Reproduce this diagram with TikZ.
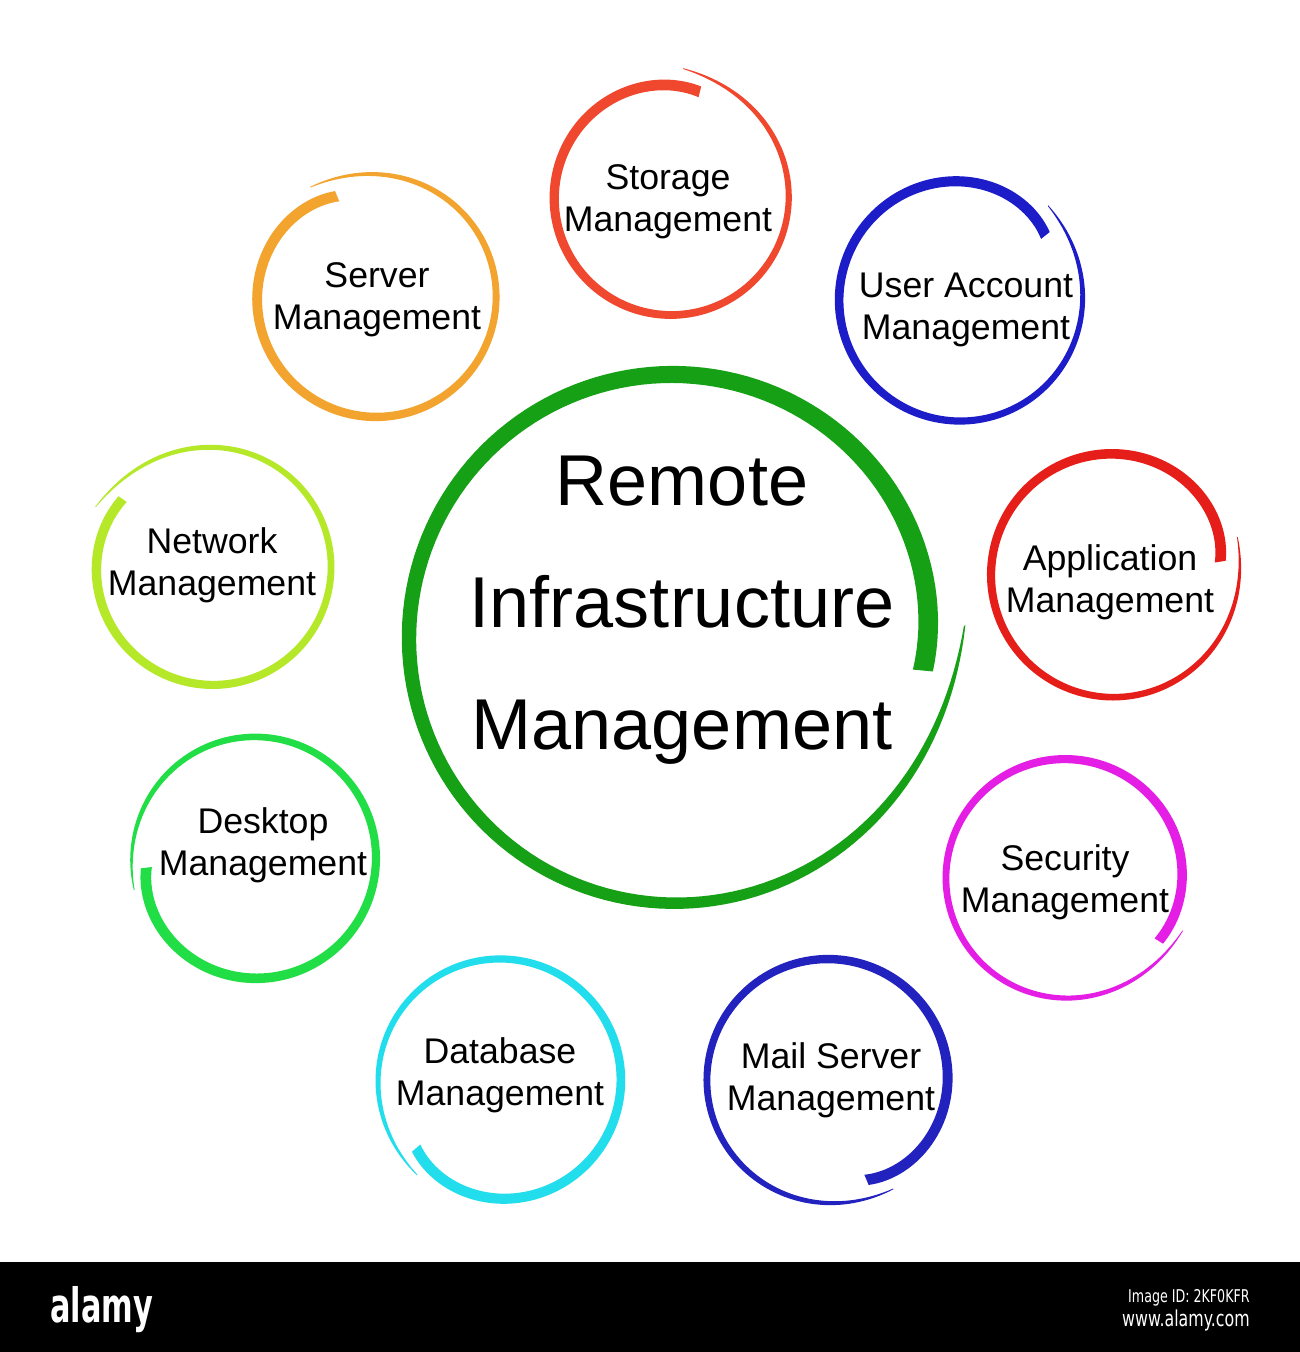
\documentclass[tikz,border=0pt]{standalone}
\usepackage{fontspec}
\setmainfont{Liberation Sans}
\newfontfamily\barfont[FakeStretch=0.72]{DejaVu Sans}
\newfontfamily\logofont[FakeStretch=0.64]{DejaVu Sans}

\definecolor{storagecol}{RGB}{240,72,46}
\definecolor{usercol}{RGB}{28,28,200}
\definecolor{appcol}{RGB}{230,30,26}
\definecolor{securitycol}{RGB}{228,30,228}
\definecolor{mailcol}{RGB}{34,34,190}
\definecolor{databasecol}{RGB}{34,222,236}
\definecolor{desktopcol}{RGB}{34,222,70}
\definecolor{networkcol}{RGB}{182,232,42}
\definecolor{servercol}{RGB}{242,164,46}
\definecolor{hubcol}{RGB}{22,160,22}

\tikzset{
  mgmt/.style={align=center, inner sep=0pt, font=\fontsize{20.3pt}{23.9pt}\selectfont},
  hub/.style={align=center, inner sep=0pt, font=\fontsize{41pt}{69.4pt}\selectfont},
  barnote/.style={text=white, inner sep=0pt, font=\barfont\fontsize{10pt}{12pt}\selectfont}
}

\begin{document}
\begin{tikzpicture}[x=0.02cm, y=0.02cm]
    \useasboundingbox (0,0) rectangle (1300,1352);
    \fill[white] (0,0) rectangle (1300,1352);

    % brush rings: centre x/y, colour, start angle, nominal, start and end radius, end width
    \foreach \cx/\cy/\col/\ta/\rn/\rs/\re/\wd in {
        673/714/hubcol/2.5/264/292/252/20,
        671/1154/storagecol/84.7/117/130/110/11,
        960/1052/usercol/47/121/129/107/11,
        1113/777/appcol/17/122/130/108/11,
        1065/474/securitycol/-24/119/129/113/10,
        828/272/mailcol/-59/121/127/107/11,
        500/272/databasecol/229/121/126/108/11,
        255/494/desktopcol/195/121/125/109/11,
        213/785/networkcol/153/118/132/113/10,
        376/1055/servercol/121/120/128/108/11} {
      \fill[\col, shift={(\cx,\cy)}]
        plot[domain=0:1, samples=160, variable=\t]
          ({\ta-370*\t}:{\rn+(\rs-\rn)*exp(-\t/0.08)-(\rn-\re)*exp((\t-1)/0.08)+\wd*(0.45+0.55*\t)*(1-0.85*exp(-\t/0.07))/2})
        -- plot[domain=1:0, samples=160, variable=\t]
          ({\ta-370*\t}:{\rn+(\rs-\rn)*exp(-\t/0.08)-(\rn-\re)*exp((\t-1)/0.08)-\wd*(0.45+0.55*\t)*(1-0.85*exp(-\t/0.07))/2})
        -- cycle;
    }

    \node[hub] (rim) at (682,742) {Remote\\Infrastructure\\Management};

    \node[mgmt] (storage) at (668,1150) {Storage\\Management};
    \node[mgmt] (useracct) at (966,1042) {User Account\\Management};
    \node[mgmt] (application) at (1110,770) {Application\\Management};
    \node[mgmt] (security) at (1065,470) {Security\\Management};
    \node[mgmt] (mailserver) at (831,272) {Mail Server\\Management};
    \node[mgmt] (database) at (500,277) {Database\\Management};
    \node[mgmt] (desktop) at (263,507) {Desktop\\Management};
    \node[mgmt] (network) at (212,787) {Network\\Management};
    \node[mgmt] (server) at (377,1052) {Server\\Management};

    % stock bar
    \fill[black] (0,0) rectangle (1300,90);
    \node[barnote, anchor=base west, font=\logofont\bfseries\fontsize{27pt}{27pt}\selectfont] (alamy) at (50,30) {alamy};
    \node[barnote, anchor=base east] (imageid) at (1250,50) {Image ID: 2KF0KFR};
    \node[barnote, anchor=base east, font=\barfont\fontsize{12.5pt}{14pt}\selectfont] (site) at (1250,26) {www.alamy.com};
  \end{tikzpicture}
\end{document}
